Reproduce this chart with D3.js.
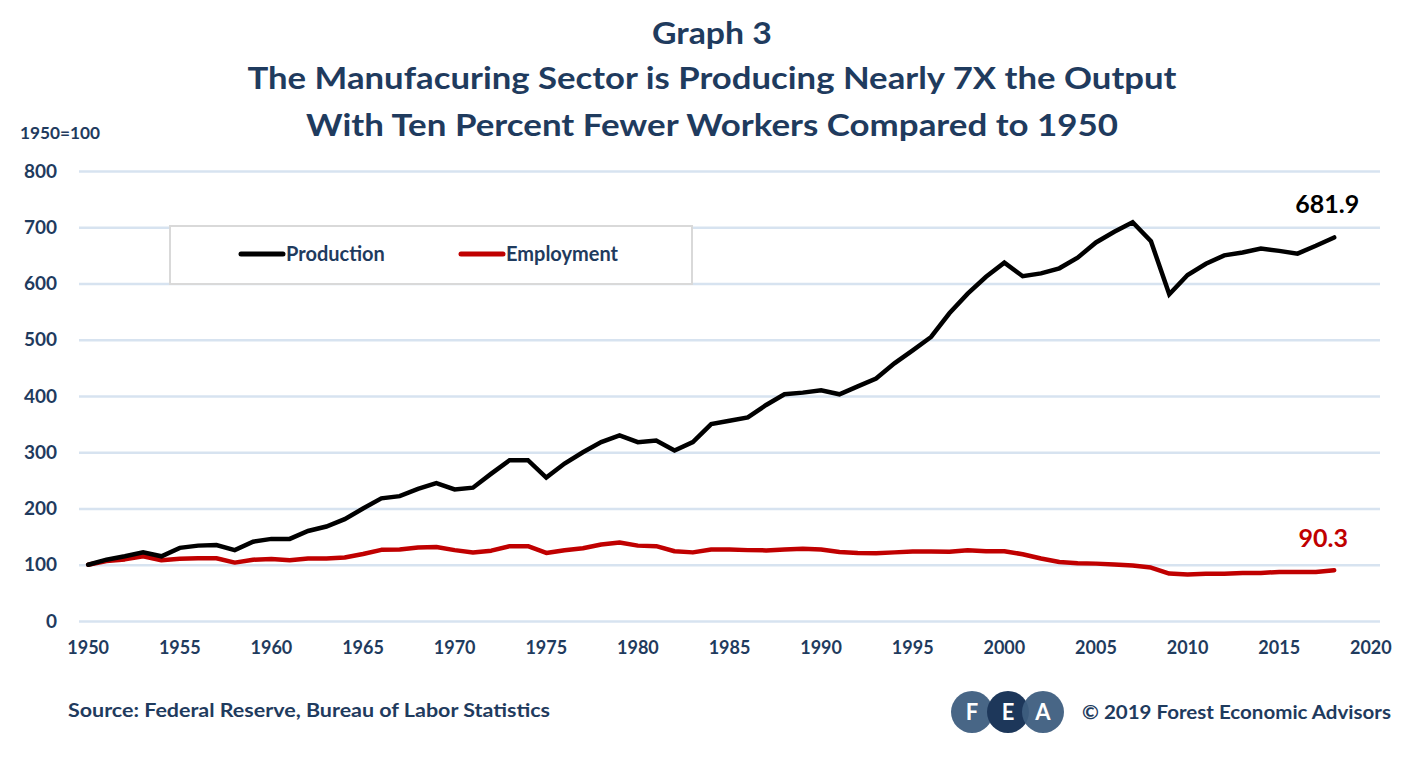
<!DOCTYPE html>
<html>
<head>
<meta charset="utf-8">
<script src="https://cdn.jsdelivr.net/npm/d3@7"></script>
<style>
  body { margin: 0; background: #fff; }
  svg { display: block; font-family: Lato, "Open Sans", sans-serif; }
</style>
</head>
<body>
<svg id="drawing_region"></svg>
<script>
// chart data (1950 = 100)
const years = d3.range(1950, 2019);
const categories = d3.range(1950, 2021);
const production = [
  100, 109, 115, 122, 115, 130, 134, 135, 126, 141,
  146, 146, 160, 168, 181, 200, 218, 222, 235, 245,
  234, 237, 262, 286, 286, 255, 280, 300, 318, 330,
  318, 321, 303, 318, 350, 356, 362, 384, 403, 406,
  410, 403, 417, 431, 458, 481, 505, 547, 582, 612,
  637, 613, 618, 627, 646, 673, 692, 709, 675, 581,
  615, 635, 650, 655, 662, 658, 653, 667, 681.9
];
const employment = [
  100, 106.7, 109.5, 115, 108, 110.5, 111.5, 111.5, 103.8, 109,
  110.4, 108, 111, 111, 112.8, 119, 126.5, 127, 130.6, 131.7,
  126, 121.7, 125, 133, 133, 121, 125.8, 129.3, 136, 139.5,
  134, 133, 124, 122, 127, 127, 126, 125.5, 127, 128.5,
  127, 122.8, 121, 120.5, 122, 123.4, 123.4, 123, 125.8, 124,
  124, 118.7, 111, 105, 102.5, 102, 100.3, 98.5, 95, 84.3,
  82.5, 84, 84, 85.4, 85.4, 87.2, 87, 87.3, 90.3
];
const yTicks = [0, 100, 200, 300, 400, 500, 600, 700, 800];
const xTicks = [1950, 1955, 1960, 1965, 1970, 1975, 1980, 1985, 1990, 1995, 2000, 2005, 2010, 2015, 2020];
const seriesNames = ['Production', 'Employment'];

const navy = '#1f3b5e';
const config = {
  width: 1418,
  height: 760,
  margin: { top: 171, right: 38, bottom: 139, left: 79 }
};

const svg = d3.select('#drawing_region')
  .attr('width', config.width)
  .attr('height', config.height);

const inner_width = config.width - config.margin.left - config.margin.right;
const inner_height = config.height - config.margin.top - config.margin.bottom;

const chart = svg.append('g')
  .attr('transform', `translate(${config.margin.left}, ${config.margin.top})`);

const xscale = d3.scaleBand()
  .domain(categories)
  .range([0, inner_width]);

const yscale = d3.scaleLinear()
  .domain([0, 800])
  .range([inner_height, 0]);

const xc = d => xscale(d) + xscale.bandwidth() / 2;

// gridlines + y labels
const yaxis = d3.axisLeft(yscale)
  .tickValues(yTicks)
  .tickSize(-inner_width)
  .tickPadding(22);

const yaxis_group = chart.append('g').call(yaxis);
yaxis_group.select('.domain').remove();
yaxis_group.selectAll('line')
  .attr('stroke', '#d7e3f0')
  .attr('stroke-width', 2.5);
yaxis_group.selectAll('text')
  .attr('fill', navy)
  .attr('font-size', 19)
  .attr('font-weight', 700)
  .attr('font-family', 'Lato, sans-serif');

// x labels
const xaxis = d3.axisBottom(xscale)
  .tickValues(xTicks)
  .tickSize(0)
  .tickPadding(20);

const xaxis_group = chart.append('g')
  .attr('transform', `translate(0, ${inner_height})`)
  .call(xaxis);
xaxis_group.select('.domain').remove();
xaxis_group.selectAll('text')
  .attr('fill', navy)
  .attr('font-size', 18)
  .attr('font-weight', 700)
  .attr('font-family', 'Lato, sans-serif');

// lines
const line = d3.line()
  .x((d, i) => xc(years[i]))
  .y(d => yscale(d));

chart.append('path')
  .datum(employment)
  .attr('fill', 'none')
  .attr('stroke', '#c00000')
  .attr('stroke-width', 4.5)
  .attr('stroke-linejoin', 'round')
  .attr('stroke-linecap', 'round')
  .attr('d', line);

chart.append('path')
  .datum(production)
  .attr('fill', 'none')
  .attr('stroke', '#000')
  .attr('stroke-width', 4.5)
  .attr('stroke-linejoin', 'miter')
  .attr('stroke-linecap', 'round')
  .attr('d', line);

// end labels
const last = years.length - 1;
chart.append('text')
  .attr('x', xc(years[last]) - 7)
  .attr('y', yscale(production[last]) - 24)
  .attr('text-anchor', 'middle')
  .attr('font-size', 25)
  .attr('font-weight', 700)
  .attr('fill', '#000')
  .text(production[last].toFixed(1));

chart.append('text')
  .attr('x', xc(years[last]) - 11)
  .attr('y', yscale(employment[last]) - 23)
  .attr('text-anchor', 'middle')
  .attr('font-size', 25)
  .attr('font-weight', 700)
  .attr('fill', '#c00000')
  .text(employment[last].toFixed(1));

// legend
const legend = svg.append('g');
legend.append('rect')
  .attr('x', 170).attr('y', 226)
  .attr('width', 522).attr('height', 58)
  .attr('fill', '#fff')
  .attr('stroke', '#d9d9d9')
  .attr('stroke-width', 2);

const legendColors = ['#000', '#c00000'];
const legendX = [241, 461];
seriesNames.forEach((name, i) => {
  legend.append('line')
    .attr('x1', legendX[i]).attr('x2', legendX[i] + 42)
    .attr('y1', 254).attr('y2', 254)
    .attr('stroke', legendColors[i])
    .attr('stroke-width', 5)
    .attr('stroke-linecap', 'round');
  legend.append('text')
    .attr('x', legendX[i] + 45)
    .attr('y', 261)
    .attr('font-size', 20)
    .attr('font-weight', 700)
    .attr('fill', navy)
    .text(name);
});

// titles
const titles = [
  { text: 'Graph 3', y: 44, len: 120 },
  { text: 'The Manufacuring Sector is Producing Nearly 7X the Output', y: 89, len: 929 },
  { text: 'With Ten Percent Fewer Workers Compared to 1950', y: 136, len: 812 }
];
svg.selectAll('.title')
  .data(titles)
  .join('text')
  .attr('class', 'title')
  .attr('x', 712)
  .attr('y', d => d.y)
  .attr('text-anchor', 'middle')
  .attr('font-size', 31)
  .attr('font-weight', 700)
  .attr('fill', navy)
  .attr('textLength', d => d.len)
  .attr('lengthAdjust', 'spacingAndGlyphs')
  .text(d => d.text);

svg.append('text')
  .attr('x', 20).attr('y', 139)
  .attr('font-size', 17)
  .attr('font-weight', 700)
  .attr('fill', navy)
  .attr('textLength', 80)
  .attr('lengthAdjust', 'spacingAndGlyphs')
  .text('1950=100');

// footer
svg.append('text')
  .attr('x', 68).attr('y', 717)
  .attr('font-size', 18)
  .attr('font-weight', 700)
  .attr('fill', navy)
  .attr('textLength', 482)
  .attr('lengthAdjust', 'spacingAndGlyphs')
  .text('Source: Federal Reserve, Bureau of Labor Statistics');

svg.append('text')
  .attr('x', 1082).attr('y', 719)
  .attr('font-size', 19)
  .attr('font-weight', 700)
  .attr('fill', navy)
  .attr('textLength', 309)
  .attr('lengthAdjust', 'spacingAndGlyphs')
  .text('\u00a9 2019 Forest Economic Advisors');

// FEA logo
const logo = svg.append('g');
const logoLetters = ['F', 'E', 'A'];
const logoX = [972, 1008, 1043];
const logoFill = ['#3e5e80', '#1d375a', '#3e5e80'];
logoLetters.forEach((l, i) => {
  logo.append('circle')
    .attr('cx', logoX[i]).attr('cy', 712).attr('r', 21)
    .attr('fill', logoFill[i])
    .attr('opacity', i === 1 ? 1 : 0.95);
});
logoLetters.forEach((l, i) => {
  logo.append('text')
    .attr('x', logoX[i]).attr('y', 720)
    .attr('text-anchor', 'middle')
    .attr('font-size', 22)
    .attr('font-weight', 700)
    .attr('fill', '#fff')
    .text(l);
});
</script>
</body>
</html>
